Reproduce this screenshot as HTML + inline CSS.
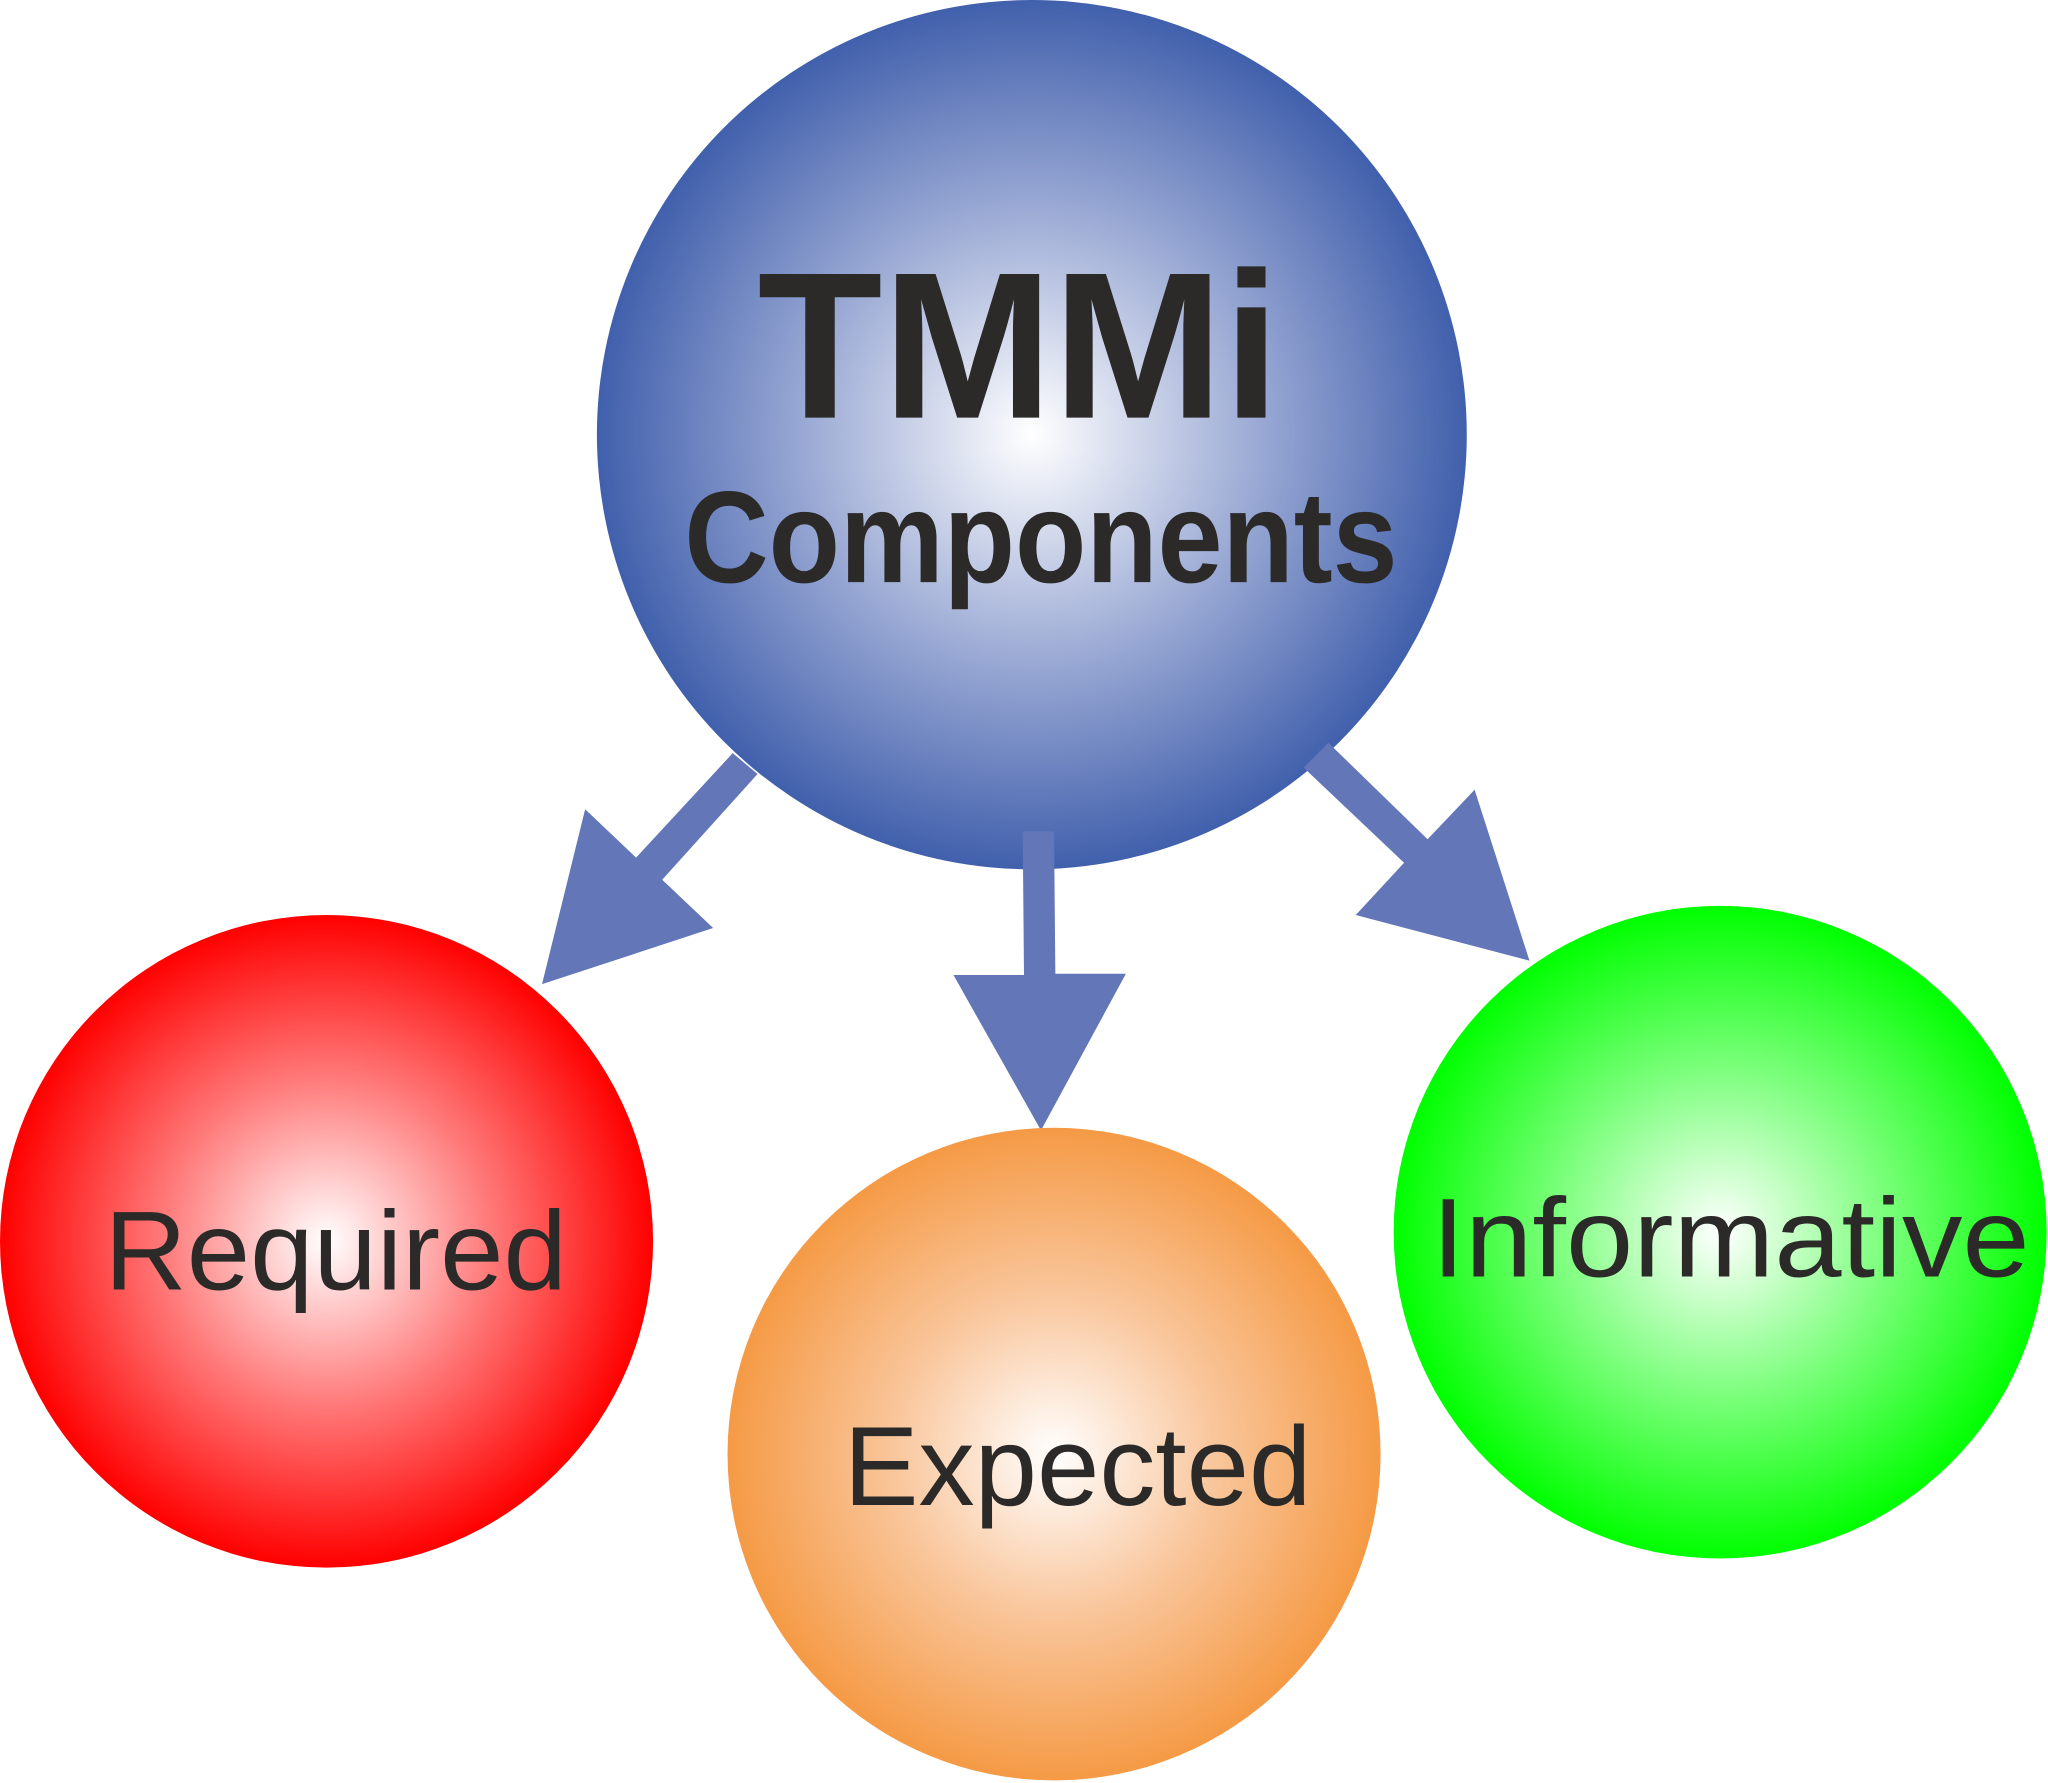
<!DOCTYPE html>
<html><head><meta charset="utf-8"><style>
html,body{margin:0;padding:0;background:#fff;}
svg{display:block;}
text{font-family:"Liberation Sans",sans-serif;fill:#2b2a29;}
</style></head><body>
<svg width="2048" height="1783" viewBox="0 0 1568 1366" preserveAspectRatio="none" xmlns="http://www.w3.org/2000/svg">
<defs>
<radialGradient id="gb" cx="50%" cy="50%" r="50%"><stop offset="0" stop-color="#ffffff"/><stop offset="0.55" stop-color="#95a5d2"/><stop offset="1" stop-color="#4160ac"/></radialGradient>
<radialGradient id="gr" cx="50%" cy="50%" r="50%"><stop offset="0" stop-color="#ffffff"/><stop offset="0.5" stop-color="#ff7a7a"/><stop offset="1" stop-color="#ff0000"/></radialGradient>
<radialGradient id="go" cx="50%" cy="50%" r="50%"><stop offset="0" stop-color="#ffffff"/><stop offset="0.5" stop-color="#f9c59a"/><stop offset="1" stop-color="#f59a45"/></radialGradient>
<radialGradient id="gg" cx="50%" cy="50%" r="50%"><stop offset="0" stop-color="#ffffff"/><stop offset="0.5" stop-color="#7dff7d"/><stop offset="1" stop-color="#00ff00"/></radialGradient>
</defs>
<circle cx="790" cy="333" r="333" fill="url(#gb)"/>
<g fill="#6276b8">
<polygon points="561,577 580,593 507,674 546,711 415,754 448,620 487,657"/>
<polygon points="783,637 807,637 808,746 862,746 797,866 730,747 784,747"/>
<polygon points="1017,569 998,588 1075,661 1038,701 1171,736 1129,605 1093,643"/>
</g>
<circle cx="250" cy="951" r="250" fill="url(#gr)"/>
<circle cx="807" cy="1114" r="250" fill="url(#go)"/>
<circle cx="1317" cy="944" r="250" fill="url(#gg)"/>
<text x="580" y="320" font-size="160" font-weight="bold" textLength="400" lengthAdjust="spacingAndGlyphs">TMMi</text>
<text x="524" y="446" font-size="100" font-weight="bold" textLength="546" lengthAdjust="spacingAndGlyphs">Components</text>
<text x="80" y="988" font-size="86" textLength="354" lengthAdjust="spacingAndGlyphs">Required</text>
<text x="646" y="1153" font-size="86" textLength="358" lengthAdjust="spacingAndGlyphs">Expected</text>
<text x="1096" y="978" font-size="86" textLength="458" lengthAdjust="spacingAndGlyphs">Informative</text>
</svg>
</body></html>
